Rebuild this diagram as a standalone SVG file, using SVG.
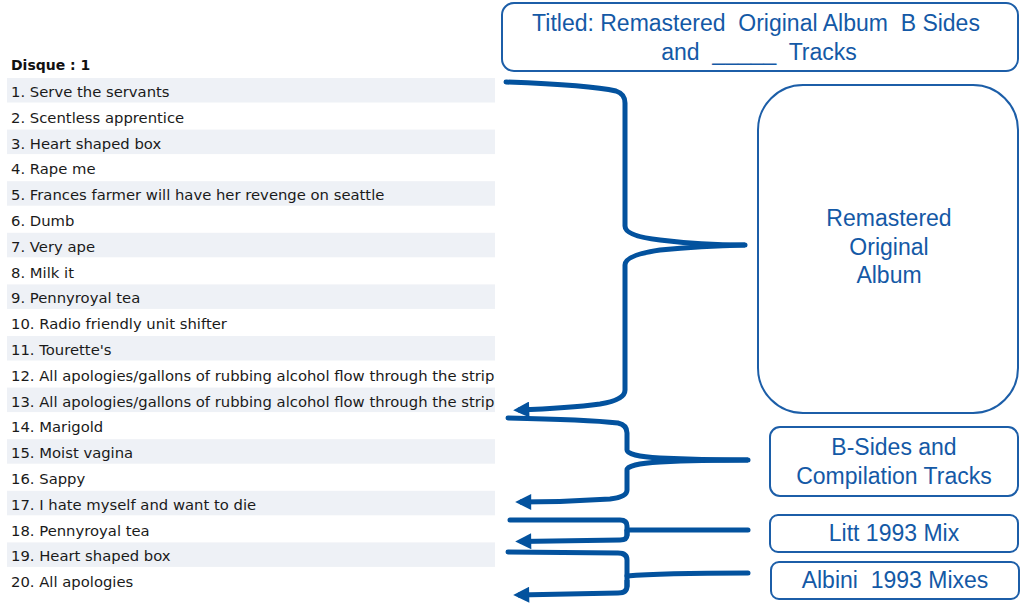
<svg xmlns="http://www.w3.org/2000/svg" width="1022" height="615" viewBox="0 0 1022 615">
<style>
.row{fill:#eef1f6}
.trk{font-family:"DejaVu Sans",Verdana,sans-serif;font-size:14.8px;fill:#1a1a1a}
.hdr{font-family:"DejaVu Sans",Verdana,sans-serif;font-size:14px;font-weight:bold;fill:#111}
.box{fill:#fff;stroke:#1c5ea8;stroke-width:2}
.lbl{font-family:"Liberation Sans",Arial,sans-serif;font-size:23px;fill:#1459a6;text-anchor:middle}
.br{fill:none;stroke:#03529e;stroke-width:5;stroke-linecap:round;stroke-linejoin:round}
.ar{fill:none;stroke:#03529e;stroke-width:5;stroke-linecap:butt;stroke-linejoin:round;marker-end:url(#arr)}
</style>
<defs>
<marker id="arr" viewBox="0 0 10 10" refX="7" refY="5" markerWidth="20" markerHeight="16" markerUnits="userSpaceOnUse" orient="auto">
<path d="M0,0 L10,5 L0,10 z" fill="#03529e"/>
</marker>
</defs>
<rect width="1022" height="615" fill="#fff"/>
<g id="tracklist">
<text class="hdr" x="11" y="70">Disque : 1</text>
<rect class="row" x="7" y="78" width="488" height="24.5"/>
<rect class="row" x="7" y="129.6" width="488" height="24.5"/>
<rect class="row" x="7" y="181.2" width="488" height="24.5"/>
<rect class="row" x="7" y="232.8" width="488" height="24.5"/>
<rect class="row" x="7" y="284.4" width="488" height="24.5"/>
<rect class="row" x="7" y="336" width="488" height="24.5"/>
<rect class="row" x="7" y="387.6" width="488" height="24.5"/>
<rect class="row" x="7" y="439.2" width="488" height="24.5"/>
<rect class="row" x="7" y="490.8" width="488" height="24.5"/>
<rect class="row" x="7" y="542.4" width="488" height="24.5"/>
<text class="trk" x="11" y="97">1. Serve the servants</text>
<text class="trk" x="11" y="122.8">2. Scentless apprentice</text>
<text class="trk" x="11" y="148.6">3. Heart shaped box</text>
<text class="trk" x="11" y="174.4">4. Rape me</text>
<text class="trk" x="11" y="200.2">5. Frances farmer will have her revenge on seattle</text>
<text class="trk" x="11" y="226">6. Dumb</text>
<text class="trk" x="11" y="251.8">7. Very ape</text>
<text class="trk" x="11" y="277.6">8. Milk it</text>
<text class="trk" x="11" y="303.4">9. Pennyroyal tea</text>
<text class="trk" x="11" y="329.2">10. Radio friendly unit shifter</text>
<text class="trk" x="11" y="355">11. Tourette's</text>
<text class="trk" x="11" y="380.8">12. All apologies/gallons of rubbing alcohol flow through the strip</text>
<text class="trk" x="11" y="406.6">13. All apologies/gallons of rubbing alcohol flow through the strip</text>
<text class="trk" x="11" y="432.4">14. Marigold</text>
<text class="trk" x="11" y="458.2">15. Moist vagina</text>
<text class="trk" x="11" y="484">16. Sappy</text>
<text class="trk" x="11" y="509.8">17. I hate myself and want to die</text>
<text class="trk" x="11" y="535.6">18. Pennyroyal tea</text>
<text class="trk" x="11" y="561.4">19. Heart shaped box</text>
<text class="trk" x="11" y="587.2">20. All apologies</text>
</g>
<g id="title">
<rect class="box" x="502" y="3" width="516" height="68" rx="12"/>
<text class="lbl" x="756" y="31" xml:space="preserve">Titled: Remastered  Original Album  B Sides</text>
<text class="lbl" x="759" y="60" xml:space="preserve">and  _____  Tracks</text>
</g>
<g id="remastered">
<rect class="box" x="758" y="85" width="260" height="328" rx="45"/>
<text class="lbl" x="889" y="226">Remastered</text>
<text class="lbl" x="889" y="255">Original</text>
<text class="lbl" x="889" y="283">Album</text>
</g>
<g id="bsides">
<rect class="box" x="770" y="427" width="248" height="69" rx="10"/>
<text class="lbl" x="894" y="455">B-Sides and</text>
<text class="lbl" x="894" y="484">Compilation Tracks</text>
</g>
<g id="litt">
<rect class="box" x="770" y="515" width="248" height="37" rx="8"/>
<text class="lbl" x="894" y="541">Litt 1993 Mix</text>
</g>
<g id="albini">
<rect class="box" x="771" y="562" width="248" height="37" rx="8"/>
<text class="lbl" x="895" y="588" xml:space="preserve">Albini  1993 Mixes</text>
</g>
<g id="connectors">
<path class="br" d="M506,82 C560,84 598,87 616,91 Q625,94 625,103 L625,226 Q625,236 660,240 Q700,245 745,245"/>
<path class="ar" d="M745,245 Q700,246 660,250 Q625,255 625,265 L625,390 Q625,400 600,404 C570,408 545,409 518,410"/>
<path class="br" d="M508,418 C560,419 600,421 618,423 Q627,425 627,433 L627,450 Q627,456 660,458 Q700,460 748,460"/>
<path class="ar" d="M748,460 Q700,460 660,462 Q627,464 627,470 L627,490 Q627,497 610,499 C580,501 545,502 520,502"/>
<path class="br" d="M510,520 L620,520 Q627,520 627,526 L627,535"/>
<path class="ar" d="M627,530 L627,535 Q627,540 620,540 L520,541.5"/>
<path class="br" d="M627,530 L748,530"/>
<path class="br" d="M508,552 L618,553 Q627,553 627,560 L627,586"/>
<path class="ar" d="M627,580 L627,586 Q627,593 618,593 L518,595"/>
<path class="br" d="M627,576 Q660,573 748,573"/>
</g>
</svg>
